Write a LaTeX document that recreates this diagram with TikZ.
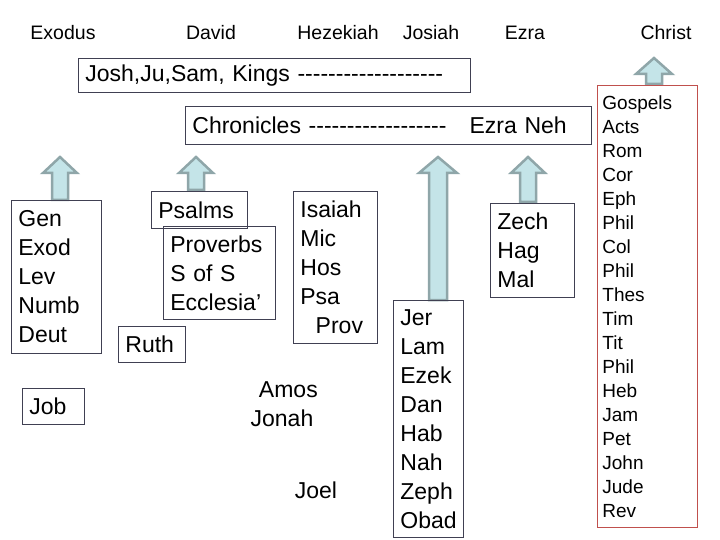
\documentclass[tikz,border=0pt]{standalone}
\usepackage{fontspec}
\setmainfont{Liberation Sans}[Ligatures=TeXOff]
\definecolor{arrfill}{HTML}{C4E4E8}
\definecolor{arrline}{HTML}{8FA6A9}
\definecolor{boxline}{HTML}{404052}
\definecolor{redline}{HTML}{C0504D}
\newcommand\blockarrow[5]{% x, ytop, ybot, headhalf, shafthalf
  \fill[arrfill,draw=arrline,line width=2.5pt,line join=miter]
   (#1,#2) -- (#1+#4,#2+16) -- (#1+#5,#2+16) -- (#1+#5,#3) -- (#1-#5,#3) -- (#1-#5,#2+16) -- (#1-#4,#2+16) -- cycle;}
\begin{document}
\begin{tikzpicture}[x=1pt,y=-1pt,
  bx/.style={draw=boxline,line width=0.8pt,anchor=north west,inner xsep=7pt,inner ysep=2pt,align=left},
  big/.style={font=\fontsize{23}{29}\selectfont},
  sml/.style={font=\fontsize{19}{24}\selectfont},
  top/.style={font=\fontsize{19.5}{21}\selectfont,anchor=base}]
\useasboundingbox (0,0) rectangle (720,540);
\fill[white] (0,0) rectangle (720,540);
% top labels
\node[top] (t1) at (63,40) {Exodus};
\node[top] (t2) at (211,40) {David};
\node[top] (t3) at (338,40) {Hezekiah};
\node[top] (t4) at (431,40) {Josiah};
\node[top] (t5) at (525,40) {Ezra};
\node[top] (t6) at (666,40) {Christ};
% arrows
\blockarrow{60}{157}{200}{17}{8}
\blockarrow{196}{157}{190}{17}{8}
\blockarrow{438}{157}{300}{19}{9}
\blockarrow{528}{157}{202}{17}{8}
\blockarrow{654}{58}{84}{18}{8}
% wide boxes
\node[bx,big,minimum width=392pt,minimum height=34pt,text width=378pt] (josh) at (78,58) {Josh,Ju,Sam, Kings -------------------};
\node[bx,big,minimum width=406pt,minimum height=38pt,text width=392pt] (chron) at (185,106) {Chronicles ------------------\ \ \ Ezra Neh};
% left column
\node[bx,big,minimum width=90pt,minimum height=153pt,text width=76pt] (gen) at (11,200) {Gen\\Exod\\Lev\\Numb\\Deut};
\node[bx,big,minimum width=62pt,minimum height=36pt,text width=48pt] (job) at (22,388) {Job};
\node[bx,big,minimum width=96pt,minimum height=37pt,text width=82pt] (psa) at (151,191) {Psalms};
\node[bx,big,minimum width=112pt,minimum height=93pt,text width=98pt] (prov) at (163,226) {Proverbs\\S of S\\Ecclesia’};
\node[bx,big,minimum width=67pt,minimum height=36pt,text width=53pt] (ruth) at (118,326) {Ruth};
\node[bx,big,minimum width=84pt,minimum height=152pt,text width=70pt,inner ysep=6pt] (isa) at (293,191) {Isaiah\\Mic\\Hos\\Psa\\\ \ Prov};
\node[big,align=center] (amos) at (282,404) {\ \ Amos\\Jonah};
\node[big] (joel) at (316,490) {Joel};
\node[bx,big,minimum width=70pt,minimum height=237pt,text width=56pt] (jer) at (393,300) {Jer\\Lam\\Ezek\\Dan\\Hab\\Nah\\Zeph\\Obad};
\node[bx,big,minimum width=84pt,minimum height=94pt,text width=70pt] (zech) at (490,203) {Zech\\Hag\\Mal};
\node[bx,sml,draw=redline,minimum width=100pt,minimum height=442pt,text width=90pt,inner xsep=5pt] (nt) at (597,85)
 {Gospels\\Acts\\Rom\\Cor\\Eph\\Phil\\Col\\Phil\\Thes\\Tim\\Tit\\Phil\\Heb\\Jam\\Pet\\John\\Jude\\Rev};
\end{tikzpicture}
\end{document}
